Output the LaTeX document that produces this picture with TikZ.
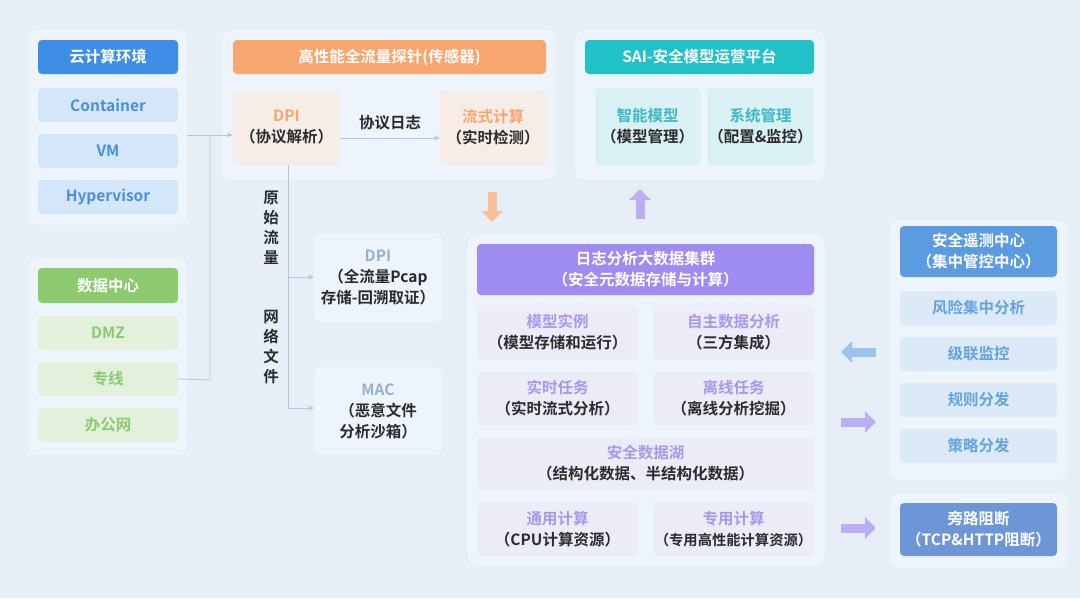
\documentclass[tikz,border=0pt]{standalone}
\usepackage{fontspec}
\setmainfont{Noto Sans CJK SC}[BoldFont={Noto Sans CJK SC Bold}]
\usetikzlibrary{arrows.meta}
\definecolor{bg}{HTML}{E6EEF8}
\definecolor{pan}{HTML}{EEF4FB}
\definecolor{blueH}{HTML}{3D8FE6}
\definecolor{blueF}{HTML}{D3E6FA}
\definecolor{blueT}{HTML}{4C8FD6}
\definecolor{grnH}{HTML}{8CC96F}
\definecolor{grnF}{HTML}{E2F0DC}
\definecolor{orH}{HTML}{F7A66F}
\definecolor{orF}{HTML}{F6EDE7}
\definecolor{tealH}{HTML}{22C1C8}
\definecolor{tealF}{HTML}{D9F0F5}
\definecolor{tealT}{HTML}{3DB9C4}
\definecolor{purH}{HTML}{9E8CF0}
\definecolor{purF}{HTML}{ECEBF8}
\definecolor{purT}{HTML}{A799E8}
\definecolor{rbH}{HTML}{5B9BE0}
\definecolor{rbF}{HTML}{DCEAF7}
\definecolor{rbT}{HTML}{64A3DE}
\definecolor{rb2}{HTML}{6E95D6}
\definecolor{dk}{HTML}{2B2B2B}
\definecolor{ln}{HTML}{B5C6D8}
\definecolor{gr}{HTML}{9AAFC8}
\tikzset{
 box/.style={rounded corners=4pt,inner sep=0pt,align=center,font=\bfseries\fontsize{15.5}{21}\selectfont},
 panel/.style={fill=pan,rounded corners=10pt},
 conn/.style={draw=ln,line width=0.8pt},
 carr/.style={conn,-{Stealth[length=6pt,width=5pt]}},
 fat/.style={line width=9pt,-{Triangle[length=11pt,width=21pt]}}
}
\newcommand{\bx}[7]{\node[box,fill=#5,text=#6,minimum width=#3pt,minimum height=#4pt] (#1) at (#2) {#7};}
\begin{document}
\begin{tikzpicture}[x=1pt,y=-1pt]
\fill[bg] (0,0) rectangle (1080,598);
\useasboundingbox (0,0) rectangle (1080,598);
% panels
\fill[panel] (28,30) rectangle (187,225);
\fill[panel] (28,258) rectangle (187,455);
\fill[panel] (222,30) rectangle (556,180);
\fill[panel] (575,30) rectangle (825,180);
\fill[panel] (467,235) rectangle (825,565);
\fill[panel] (890,220) rectangle (1068,480);
\fill[panel] (890,493) rectangle (1068,568);
\fill[panel,rounded corners=8pt] (314,233) rectangle (442,322);
\fill[panel,rounded corners=8pt] (314,367) rectangle (442,455);
% left
\bx{cloud}{108,57}{140}{34}{blueH}{white}{云计算环境}
\bx{cont}{108,105}{140}{34}{blueF}{blueT}{Container}
\bx{vm}{108,151}{140}{34}{blueF}{blueT}{VM}
\bx{hyp}{108,197}{140}{34}{blueF}{blueT}{Hypervisor}
\bx{dc}{108,285.5}{140}{35}{grnH}{white}{数据中心}
\bx{dmz}{108,333}{140}{34}{grnF}{grnH}{DMZ}
\bx{zx}{108,379}{140}{34}{grnF}{grnH}{专线}
\bx{bgw}{108,425}{140}{34}{grnF}{grnH}{办公网}
% probe
\bx{probe}{389.5,57}{313}{34}{orH}{white}{高性能全流量探针(传感器)}
\bx{dpi}{286.5,127.5}{107}{75}{orF}{dk}{\textcolor{orH}{DPI}\\（协议解析）}
\bx{flow}{493,127.5}{106}{75}{orF}{dk}{\textcolor{orH}{流式计算}\\（实时检测）}
\node[box,text=dk] (dpi2) at (378,277.5) {\textcolor{gr}{DPI}\\（全流量Pcap\\存储-回溯取证）};
\node[box,text=dk] (mac) at (378,411) {\textcolor{gr}{MAC}\\（恶意文件\\分析沙箱）};
% SAI
\bx{sai}{699.5,57}{229}{34}{tealH}{white}{SAI-安全模型运营平台}
\bx{zn}{647.5,126.5}{105}{77}{tealF}{dk}{\textcolor{tealT}{智能模型}\\（模型管理）}
\bx{xt}{760.5,126.5}{107}{77}{tealF}{dk}{\textcolor{tealT}{系统管理}\\（配置\&监控）}
% big data
\bx{big}{645.5,269.5}{337}{51}{purH}{white}{日志分析大数据集群\\（安全元数据存储与计算）}
\bx{c1}{557.5,332.5}{161}{55}{purF}{dk}{\textcolor{purT}{模型实例}\\（模型存储和运行）}
\bx{c2}{733.5,332.5}{161}{55}{purF}{dk}{\textcolor{purT}{自主数据分析}\\（三方集成）}
\bx{c3}{557.5,398.5}{161}{53}{purF}{dk}{\textcolor{purT}{实时任务}\\（实时流式分析）}
\bx{c4}{733.5,398.5}{161}{53}{purF}{dk}{\textcolor{purT}{离线任务}\\（离线分析挖掘）}
\bx{c5}{645.5,463.5}{337}{53}{purF}{dk}{\textcolor{purT}{安全数据湖}\\（结构化数据、半结构化数据）}
\bx{c6}{557.5,529}{161}{54}{purF}{dk}{\textcolor{purT}{通用计算}\\（CPU计算资源）}
\bx{c7}{733.5,529}{161}{54}{purF}{dk}{\textcolor{purT}{专用计算}\\\fontsize{14.3}{21}\selectfont（专用高性能计算资源）}
% right
\bx{aq}{978.5,251.5}{157}{51}{rbH}{white}{安全遥测中心\\（集中管控中心）}
\bx{r1}{978.5,308}{157}{34}{rbF}{rbT}{风险集中分析}
\bx{r2}{978.5,354}{157}{34}{rbF}{rbT}{级联监控}
\bx{r3}{978.5,400}{157}{34}{rbF}{rbT}{规则分发}
\bx{r4}{978.5,446}{157}{34}{rbF}{rbT}{策略分发}
\bx{pl}{978.5,529.5}{157}{53}{rb2}{white}{旁路阻断\\（TCP\&HTTP阻断）}
% connectors
\coordinate (j1) at (210,135);
\coordinate (j2) at (210,380);
\draw[conn] (187,135) -- (j1);
\draw[conn] (zx.east) -- (j2) -- (j1);
\draw[carr] (j1) -- (dpi.west |- j1);
\draw[carr] (dpi.east |- 0,138) -- node[above=4pt,font=\bfseries\fontsize{15.5}{18}\selectfont,text=dk]{协议日志} (flow.west |- 0,138);
\coordinate (v0) at (288,165);
\coordinate (v1) at (288,277);
\coordinate (v2) at (288,408);
\draw[conn] (v0) -- (v2);
\draw[carr] (v1) -- (314,277);
\draw[carr] (v2) -- (314,408);
\node[font=\bfseries\fontsize{15.5}{20}\selectfont,align=center,text=dk] at (271,228) {原\\始\\流\\量};
\node[font=\bfseries\fontsize{15.5}{20}\selectfont,align=center,text=dk] at (271,347) {网\\络\\文\\件};
% fat arrows
\draw[fat,orH!70] (492,192) -- (492,222);
\draw[fat,purH!70] (640,219) -- (640,189);
\draw[fat,rbH!60] (876,352) -- (841,352);
\draw[fat,purH!70] (841,422) -- (876,422);
\draw[fat,purH!70] (841,528) -- (876,528);
\end{tikzpicture}
\end{document}
